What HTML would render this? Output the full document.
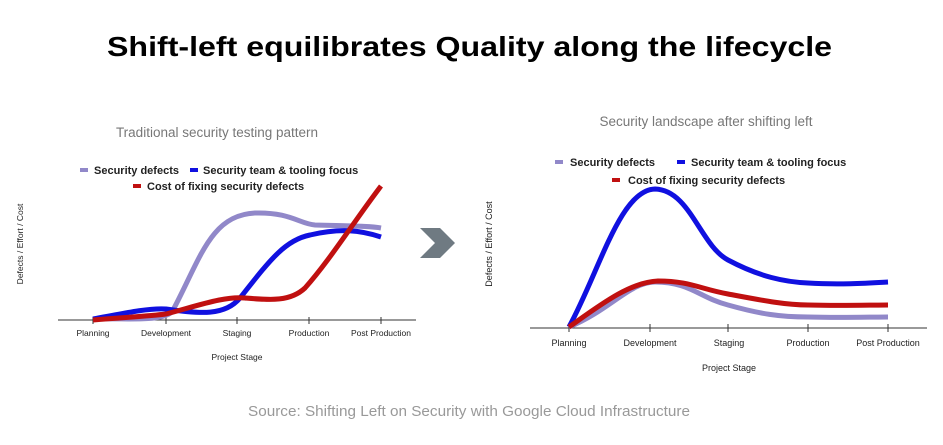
<!DOCTYPE html>
<html><head><style>body{margin:0;background:#fff}svg{display:block}</style></head><body>
<svg width="943" height="445" xmlns="http://www.w3.org/2000/svg" font-family="Liberation Sans, sans-serif">
<text x="107" y="56" textLength="725" lengthAdjust="spacingAndGlyphs" font-size="28" font-weight="bold" fill="#000">Shift-left equilibrates Quality along the lifecycle</text>
<!-- left chart -->
<text x="217" y="137" text-anchor="middle" font-size="13.5" fill="#777">Traditional security testing pattern</text>
<g font-size="11" font-weight="bold" fill="#222">
<line x1="80" y1="170" x2="88" y2="170" stroke="#9188c9" stroke-width="4"/><text x="94" y="174">Security defects</text>
<line x1="190" y1="170" x2="198" y2="170" stroke="#1010e0" stroke-width="4"/><text x="203" y="174">Security team &amp; tooling focus</text>
<line x1="133" y1="186" x2="141" y2="186" stroke="#c01010" stroke-width="4"/><text x="147" y="190">Cost of fixing security defects</text>
</g>
<line x1="58" y1="320" x2="416" y2="320" stroke="#333" stroke-width="1"/>
<g stroke="#333"><line x1="93" y1="317" x2="93" y2="324"/><line x1="166" y1="317" x2="166" y2="324"/><line x1="237" y1="317" x2="237" y2="324"/><line x1="309" y1="317" x2="309" y2="324"/><line x1="381" y1="317" x2="381" y2="324"/></g>
<g font-size="8.5" fill="#222" text-anchor="middle"><text x="93" y="336">Planning</text><text x="166" y="336">Development</text><text x="237" y="336">Staging</text><text x="309" y="336">Production</text><text x="381" y="336">Post Production</text><text x="237" y="360">Project Stage</text></g>
<text transform="translate(23,244) rotate(-90)" text-anchor="middle" font-size="8.5" fill="#222">Defects / Effort / Cost</text>
<g fill="none" stroke-width="5" stroke-linecap="butt">
<path d="M93,319 C130,318 160,322 172,312 C200,260 210,215 255,213 C290,212 300,224 315,225 C350,226 370,226 381,228" stroke="#9188c9"/>
<path d="M93,319 C130,312 150,308 166,309 C200,314 225,316 240,298 C270,260 285,240 310,235 C340,228 360,230 381,237" stroke="#1010e0"/>
<path d="M93,320 C130,317 150,316 166,314 C200,305 225,296 245,298 C270,300 290,302 305,288 C330,260 355,220 381,186" stroke="#c01010"/>
</g>
<polygon points="420,228 440,228 455,243 440,258 420,258 435,243" fill="#6f7a82"/>
<!-- right chart -->
<text x="706" y="126" text-anchor="middle" font-size="13.5" fill="#777">Security landscape after shifting left</text>
<g font-size="11" font-weight="bold" fill="#222">
<line x1="555" y1="162" x2="563" y2="162" stroke="#9188c9" stroke-width="4"/><text x="570" y="166">Security defects</text>
<line x1="677" y1="162" x2="685" y2="162" stroke="#1010e0" stroke-width="4"/><text x="691" y="166">Security team &amp; tooling focus</text>
<line x1="612" y1="180" x2="620" y2="180" stroke="#c01010" stroke-width="4"/><text x="628" y="184">Cost of fixing security defects</text>
</g>
<line x1="530" y1="328" x2="927" y2="328" stroke="#333" stroke-width="1"/>
<g stroke="#333"><line x1="569" y1="324" x2="569" y2="332"/><line x1="650" y1="324" x2="650" y2="332"/><line x1="728" y1="324" x2="728" y2="332"/><line x1="808" y1="324" x2="808" y2="332"/><line x1="888" y1="324" x2="888" y2="332"/></g>
<g font-size="9" fill="#222" text-anchor="middle"><text x="569" y="346">Planning</text><text x="650" y="346">Development</text><text x="729" y="346">Staging</text><text x="808" y="346">Production</text><text x="888" y="346">Post Production</text><text x="729" y="371">Project Stage</text></g>
<text transform="translate(492,244) rotate(-90)" text-anchor="middle" font-size="9" fill="#222">Defects / Effort / Cost</text>
<g fill="none" stroke-width="5">
<path d="M569,327 C610,310 630,282 655,282 C690,282 700,298 728,305 C760,314 780,317 808,317 C840,318 870,317 888,317" stroke="#9188c9"/>
<path d="M569,327 C600,270 620,190 655,189 C690,190 700,245 728,260 C760,277 785,282 808,283 C840,285 870,283 888,282" stroke="#1010e0"/>
<path d="M569,327 C600,305 630,282 658,281 C690,281 700,289 728,294 C760,300 785,305 808,305 C840,306 870,305 888,305" stroke="#c01010"/>
</g>
<text x="248" y="416" textLength="442" lengthAdjust="spacingAndGlyphs" font-size="14.5" fill="#999">Source: Shifting Left on Security with Google Cloud Infrastructure</text>
</svg>
</body></html>
